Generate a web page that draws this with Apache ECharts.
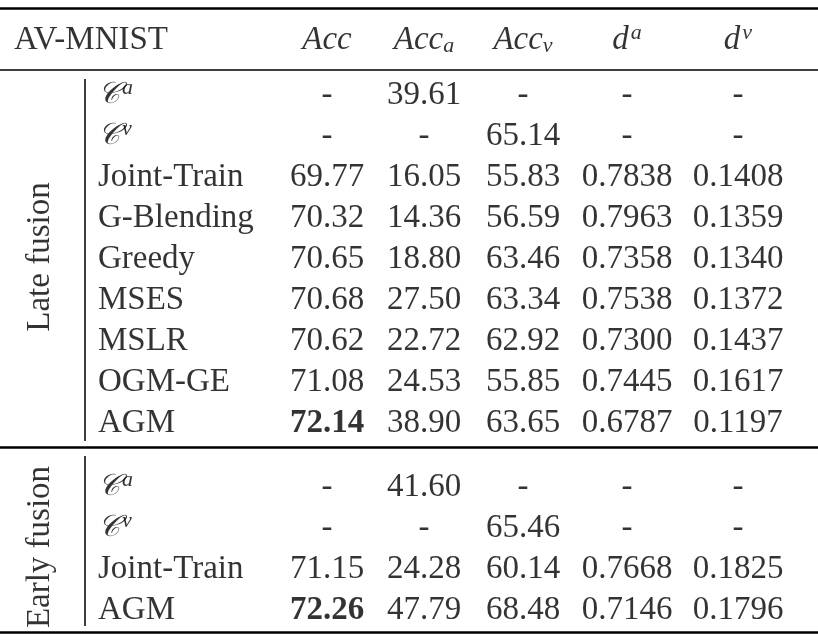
<!DOCTYPE html>
<html><head><meta charset="utf-8">
<script src="https://cdn.jsdelivr.net/npm/echarts@6/dist/echarts.min.js"></script>
<style>body{margin:0;background:#fff}#c{width:818px;height:641px}</style>
</head><body><div id="c"></div>
<script>
// table content
var headers = ['AV-MNIST', '{i|Acc}', '{i|Acc}{sub|a}', '{i|Acc}{sub|v}', '{i|d}{sup|a}', '{i|d}{sup|v}'];
var groups = ['Late fusion', 'Early fusion'];
var lateMethods = ['{c|𝒞}{sup|a}', '{c|𝒞}{sup|v}', 'Joint-Train', 'G-Blending', 'Greedy', 'MSES', 'MSLR', 'OGM-GE', 'AGM'];
var lateAcc  = ['-', '-', '69.77', '70.32', '70.65', '70.68', '70.62', '71.08', '*72.14'];
var lateAccA = ['39.61', '-', '16.05', '14.36', '18.80', '27.50', '22.72', '24.53', '38.90'];
var lateAccV = ['-', '65.14', '55.83', '56.59', '63.46', '63.34', '62.92', '55.85', '63.65'];
var lateDA   = ['-', '-', '0.7838', '0.7963', '0.7358', '0.7538', '0.7300', '0.7445', '0.6787'];
var lateDV   = ['-', '-', '0.1408', '0.1359', '0.1340', '0.1372', '0.1437', '0.1617', '0.1197'];
var earlyMethods = ['{c|𝒞}{sup|a}', '{c|𝒞}{sup|v}', 'Joint-Train', 'AGM'];
var earlyAcc  = ['-', '-', '71.15', '*72.26'];
var earlyAccA = ['41.60', '-', '24.28', '47.79'];
var earlyAccV = ['-', '65.46', '60.14', '68.48'];
var earlyDA   = ['-', '-', '0.7668', '0.7146'];
var earlyDV   = ['-', '-', '0.1825', '0.1796'];

// layout
var colX = [98, 327, 424, 523, 627, 738];
var headY = 40, rowH = 41, lateY0 = 95, earlyY0 = 487;

var cells = [], names = [];
headers.forEach(function (h, i) { cells.push([i === 0 ? 91 : colX[i], headY, h]); });
function addBlock(y0, m, cols) {
  m.forEach(function (name, r) {
    names.push([colX[0], y0 + r * rowH, name]);
    cols.forEach(function (col, j) { cells.push([colX[j + 1], y0 + r * rowH, col[r]]); });
  });
}
addBlock(lateY0, lateMethods, [lateAcc, lateAccA, lateAccV, lateDA, lateDV]);
addBlock(earlyY0, earlyMethods, [earlyAcc, earlyAccA, earlyAccV, earlyDA, earlyDV]);

var fs = 33;
var rich = {
  i: {fontStyle: 'italic', fontSize: fs, fontFamily: 'Liberation Serif', color: '#000'},
  sub: {fontStyle: 'italic', fontSize: 22, fontFamily: 'Liberation Serif', color: '#000', padding: [12, 0, 0, 0]},
  sup: {fontStyle: 'italic', fontSize: 22, fontFamily: 'Liberation Serif', color: '#000', padding: [0, 0, 14, 2]},
  c: {fontStyle: 'italic', fontSize: 30, fontFamily: 'DejaVu Serif', color: '#000'},
  b: {fontWeight: 'bold', fontSize: fs, fontFamily: 'Liberation Serif', color: '#000'}
};
function fmt(p) {
  var t = p.value[2];
  return t.charAt(0) === '*' ? '{b|' + t.slice(1) + '}' : t;
}
var labelBase = {show: true, position: 'inside', color: '#000', fontSize: fs,
  fontFamily: 'Liberation Serif', formatter: fmt, rich: rich};

function rule(y, x1, x2, w) { return [{coord: [x1, y], lineStyle: {width: w}}, {coord: [x2, y]}]; }
function vrule(x, y1, y2) { return [{coord: [x, y1], lineStyle: {width: 1.5}}, {coord: [x, y2]}]; }

var chart = echarts.init(document.getElementById('c'));
chart.setOption({
  animation: false,
  grid: {left: 0, top: 0, width: 818, height: 641},
  xAxis: {type: 'value', min: 0, max: 818, show: false},
  yAxis: {type: 'value', min: 0, max: 641, inverse: true, show: false},
  series: [
    {type: 'scatter', symbolSize: 0, data: cells, label: labelBase,
      markLine: {silent: true, symbol: 'none', label: {show: false},
        lineStyle: {color: '#000', type: 'solid'},
        data: [rule(8, 0, 818, 2.5), rule(70, 0, 818, 1.5), rule(447, 0, 818, 2.5),
               rule(632, 0, 818, 2.5), vrule(85, 79, 441), vrule(85, 456, 626)]}},
    {type: 'scatter', symbolSize: 0, data: names,
      label: Object.assign({}, labelBase, {position: 'right', distance: 0})},
    {type: 'scatter', symbolSize: 0,
      data: [[40, 257, groups[0]], [40, 547, groups[1]]],
      label: Object.assign({}, labelBase, {rotate: 90})}
  ]
});
</script></body></html>
